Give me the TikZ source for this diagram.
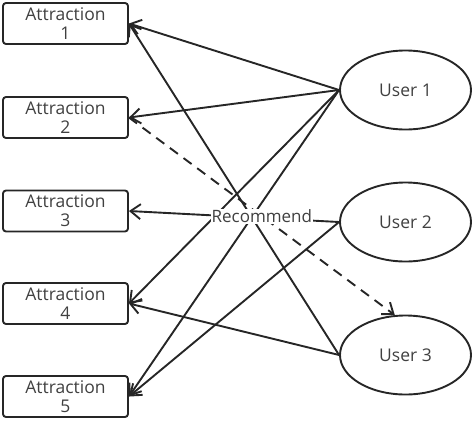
\documentclass[tikz,border=0pt]{standalone}
\usepackage{fontspec}
\setmainfont{Open Sans}
\usetikzlibrary{arrows.meta}
\usetikzlibrary{shapes.geometric}

\begin{document}
\begin{tikzpicture}[x=1pt,y=-1pt,>={Straight Barb[length=10pt,width=15pt]},
        place/.style={draw=black!85, line width=1.9pt, rounded corners=3pt,
            minimum width=125pt, minimum height=41pt, inner sep=0pt,
            align=center, text=black!75, font=\fontsize{17.5}{19}\selectfont},
        user/.style={ellipse, draw=black!85, line width=1.9pt,
            minimum width=131pt, minimum height=79pt, inner sep=0pt,
            text=black!75, font=\fontsize{17.5}{19}\selectfont},
        link/.style={->, line width=1.9pt, draw=black!85}]
        \useasboundingbox (0,0) rectangle (474,421);

        \def\boxx{65.5}
        \def\userx{405.5}

        % attractions on the left
        \foreach \i/\y in {1/23.5,2/117.5,3/211,4/303.5,5/396.5}
            \node[place] (a\i) at (\boxx,\y) {Attraction\\\i};

        % users on the right
        \node[user] (u1) at (\userx,90) {User 1};
        \node[user] (u2) at (\userx,222) {User 2};
        \node[user] (u3) at (\userx,355) {User 3};

        \draw[link] (u1.west) -- (a1.east);
        \draw[link] (u1.west) -- (a2.east);
        \draw[link] (u1.west) -- (a4.east);
        \draw[link] (u1.west) -- (a5.east);
        \draw[link] (u2.west) -- (a3.east);
        \draw[link] (u2.west) -- (a5.east);
        \draw[link] (u3.west) -- (a1.east);
        \draw[link] (u3.west) -- (a4.east);

        \draw[link, dashed, dash pattern=on 10pt off 7pt] (a2.east) -- node[fill=white, inner sep=1pt, text=black!75,
            font=\fontsize{17}{19}\selectfont] (rec) {Recommend} (u3.105);
    \end{tikzpicture}
\end{document}
